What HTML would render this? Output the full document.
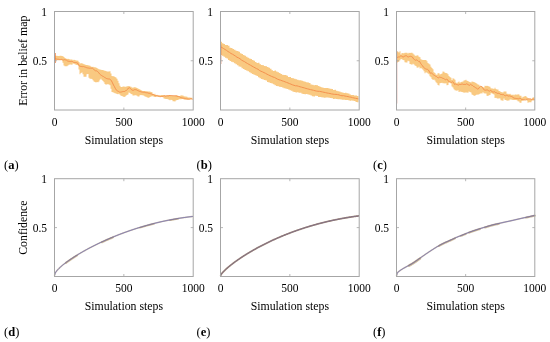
<!DOCTYPE html>
<html><head><meta charset="utf-8"><style>
html,body{margin:0;padding:0;background:#fff;width:550px;height:342px;overflow:hidden}
svg{display:block}
text{fill:#000}
</style></head><body>
<svg width="550" height="342" viewBox="0 0 550 342">
<g style="filter:blur(0.3px)">
<polygon points="54.50,55.69 55.50,55.69 55.50,55.69 56.50,55.69 56.50,55.69 57.50,55.69 57.50,55.97 58.50,55.97 58.50,55.97 59.50,55.97 59.50,55.71 60.50,55.71 60.50,55.71 61.50,55.71 61.50,56.05 62.50,56.05 62.50,56.18 63.50,56.18 63.50,56.93 64.50,56.93 64.50,58.04 65.50,58.04 65.50,58.54 66.50,58.54 66.50,59.04 67.50,59.04 67.50,58.75 68.50,58.75 68.50,59.05 69.50,59.05 69.50,59.57 70.50,59.57 70.50,59.57 71.50,59.57 71.50,59.47 72.50,59.47 72.50,60.25 73.50,60.25 73.50,59.81 74.50,59.81 74.50,60.01 75.50,60.01 75.50,60.41 76.50,60.41 76.50,60.61 77.50,60.61 77.50,60.81 78.50,60.81 78.50,62.10 79.50,62.10 79.50,63.43 80.50,63.43 80.50,63.24 81.50,63.24 81.50,63.24 82.50,63.24 82.50,63.74 83.50,63.74 83.50,64.25 84.50,64.25 84.50,64.58 85.50,64.58 85.50,64.92 86.50,64.92 86.50,64.97 87.50,64.97 87.50,65.35 88.50,65.35 88.50,65.38 89.50,65.38 89.50,65.80 90.50,65.80 90.50,66.58 91.50,66.58 91.50,66.90 92.50,66.90 92.50,66.80 93.50,66.80 93.50,67.15 94.50,67.15 94.50,67.25 95.50,67.25 95.50,67.55 96.50,67.55 96.50,67.93 97.50,67.93 97.50,68.87 98.50,68.87 98.50,69.37 99.50,69.37 99.50,69.50 100.50,69.50 100.50,69.80 101.50,69.80 101.50,69.93 102.50,69.93 102.50,70.11 103.50,70.11 103.50,70.45 104.50,70.45 104.50,70.72 105.50,70.72 105.50,70.95 106.50,70.95 106.50,71.52 107.50,71.52 107.50,71.62 108.50,71.62 108.50,71.62 109.50,71.62 109.50,71.13 110.50,71.13 110.50,73.43 111.50,73.43 111.50,75.92 112.50,75.92 112.50,76.17 113.50,76.17 113.50,76.16 114.50,76.16 114.50,77.05 115.50,77.05 115.50,77.45 116.50,77.45 116.50,78.79 117.50,78.79 117.50,80.86 118.50,80.86 118.50,83.25 119.50,83.25 119.50,85.76 120.50,85.76 120.50,86.96 121.50,86.96 121.50,86.96 122.50,86.96 122.50,86.52 123.50,86.52 123.50,86.52 124.50,86.52 124.50,86.81 125.50,86.81 125.50,86.73 126.50,86.73 126.50,86.17 127.50,86.17 127.50,86.19 128.50,86.19 128.50,85.92 129.50,85.92 129.50,86.48 130.50,86.48 130.50,86.78 131.50,86.78 131.50,87.42 132.50,87.42 132.50,87.67 133.50,87.67 133.50,87.17 134.50,87.17 134.50,87.28 135.50,87.28 135.50,87.53 136.50,87.53 136.50,88.06 137.50,88.06 137.50,88.56 138.50,88.56 138.50,89.06 139.50,89.06 139.50,89.56 140.50,89.56 140.50,90.06 141.50,90.06 141.50,90.71 142.50,90.71 142.50,91.00 143.50,91.00 143.50,91.08 144.50,91.08 144.50,91.10 145.50,91.10 145.50,91.26 146.50,91.26 146.50,91.35 147.50,91.35 147.50,91.43 148.50,91.43 148.50,91.61 149.50,91.61 149.50,91.50 150.50,91.50 150.50,91.88 151.50,91.88 151.50,92.25 152.50,92.25 152.50,93.81 153.50,93.81 153.50,94.18 154.50,94.18 154.50,93.70 155.50,93.70 155.50,95.08 156.50,95.08 156.50,94.78 157.50,94.78 157.50,95.20 158.50,95.20 158.50,95.40 159.50,95.40 159.50,95.60 160.50,95.60 160.50,95.04 161.50,95.04 161.50,95.04 162.50,95.04 162.50,95.04 163.50,95.04 163.50,95.47 164.50,95.47 164.50,95.05 165.50,95.05 165.50,95.81 166.50,95.81 166.50,95.37 167.50,95.37 167.50,95.29 168.50,95.29 168.50,94.92 169.50,94.92 169.50,95.11 170.50,95.11 170.50,95.44 171.50,95.44 171.50,95.46 172.50,95.46 172.50,95.72 173.50,95.72 173.50,95.74 174.50,95.74 174.50,95.76 175.50,95.76 175.50,95.24 176.50,95.24 176.50,95.34 177.50,95.34 177.50,95.63 178.50,95.63 178.50,96.15 179.50,96.15 179.50,95.95 180.50,95.95 180.50,95.26 181.50,95.26 181.50,95.39 182.50,95.39 182.50,95.60 183.50,95.60 183.50,96.31 184.50,96.31 184.50,96.61 185.50,96.61 185.50,96.51 186.50,96.51 186.50,96.81 187.50,96.81 187.50,97.55 188.50,97.55 188.50,97.51 189.50,97.51 189.50,97.61 190.50,97.61 190.50,97.72 191.50,97.72 191.50,97.82 192.50,97.82 192.50,98.10 192.50,98.10 192.50,100.28 192.50,100.28 192.50,99.36 191.50,99.36 191.50,99.36 190.50,99.36 190.50,99.52 189.50,99.52 189.50,99.52 188.50,99.52 188.50,99.97 187.50,99.97 187.50,99.75 186.50,99.75 186.50,99.62 185.50,99.62 185.50,99.69 184.50,99.69 184.50,99.56 183.50,99.56 183.50,99.02 182.50,99.02 182.50,99.02 181.50,99.02 181.50,99.14 180.50,99.14 180.50,99.17 179.50,99.17 179.50,99.35 178.50,99.35 178.50,99.90 177.50,99.90 177.50,99.99 176.50,99.99 176.50,100.59 175.50,100.59 175.50,101.61 174.50,101.61 174.50,101.37 173.50,101.37 173.50,101.13 172.50,101.13 172.50,99.92 171.50,99.92 171.50,99.68 170.50,99.68 170.50,100.26 169.50,100.26 169.50,99.73 168.50,99.73 168.50,99.34 167.50,99.34 167.50,99.00 166.50,99.00 166.50,99.08 165.50,99.08 165.50,98.75 164.50,98.75 164.50,98.38 163.50,98.38 163.50,97.35 162.50,97.35 162.50,97.11 161.50,97.11 161.50,96.87 160.50,96.87 160.50,97.16 159.50,97.16 159.50,97.02 158.50,97.02 158.50,96.88 157.50,96.88 157.50,96.25 156.50,96.25 156.50,97.05 155.50,97.05 155.50,96.90 154.50,96.90 154.50,96.82 153.50,96.82 153.50,96.14 152.50,96.14 152.50,96.14 151.50,96.14 151.50,96.51 150.50,96.51 150.50,96.89 149.50,96.89 149.50,97.85 148.50,97.85 148.50,97.69 147.50,97.69 147.50,97.27 146.50,97.27 146.50,96.86 145.50,96.86 145.50,96.55 144.50,96.55 144.50,95.79 143.50,95.79 143.50,95.37 142.50,95.37 142.50,95.32 141.50,95.32 141.50,95.04 140.50,95.04 140.50,95.37 139.50,95.37 139.50,96.53 138.50,96.53 138.50,96.39 137.50,96.39 137.50,95.79 136.50,95.79 136.50,95.20 135.50,95.20 135.50,95.35 134.50,95.35 134.50,95.40 133.50,95.40 133.50,95.39 132.50,95.39 132.50,94.24 131.50,94.24 131.50,93.93 130.50,93.93 130.50,92.93 129.50,92.93 129.50,92.54 128.50,92.54 128.50,94.46 127.50,94.46 127.50,95.08 126.50,95.08 126.50,95.68 125.50,95.68 125.50,96.80 124.50,96.80 124.50,96.89 123.50,96.89 123.50,96.44 122.50,96.44 122.50,96.08 121.50,96.08 121.50,95.63 120.50,95.63 120.50,94.80 119.50,94.80 119.50,93.78 118.50,93.78 118.50,94.27 117.50,94.27 117.50,93.97 116.50,93.97 116.50,93.56 115.50,93.56 115.50,93.26 114.50,93.26 114.50,92.75 113.50,92.75 113.50,92.26 112.50,92.26 112.50,91.91 111.50,91.91 111.50,88.66 110.50,88.66 110.50,85.13 109.50,85.13 109.50,84.42 108.50,84.42 108.50,84.36 107.50,84.36 107.50,84.17 106.50,84.17 106.50,84.79 105.50,84.79 105.50,83.88 104.50,83.88 104.50,82.34 103.50,82.34 103.50,80.92 102.50,80.92 102.50,80.00 101.50,80.00 101.50,78.87 100.50,78.87 100.50,79.72 99.50,79.72 99.50,81.44 98.50,81.44 98.50,82.25 97.50,82.25 97.50,81.89 96.50,81.89 96.50,82.54 95.50,82.54 95.50,82.06 94.50,82.06 94.50,81.46 93.50,81.46 93.50,80.26 92.50,80.26 92.50,79.11 91.50,79.11 91.50,78.69 90.50,78.69 90.50,78.76 89.50,78.76 89.50,77.86 88.50,77.86 88.50,74.05 87.50,74.05 87.50,74.35 86.50,74.35 86.50,76.86 85.50,76.86 85.50,76.86 84.50,76.86 84.50,76.86 83.50,76.86 83.50,74.34 82.50,74.34 82.50,72.54 81.50,72.54 81.50,73.04 80.50,73.04 80.50,74.34 79.50,74.34 79.50,69.60 78.50,69.60 78.50,65.25 77.50,65.25 77.50,64.95 76.50,64.95 76.50,64.65 75.50,64.65 75.50,64.16 74.50,64.16 74.50,63.86 73.50,63.86 73.50,63.42 72.50,63.42 72.50,64.66 71.50,64.66 71.50,64.56 70.50,64.56 70.50,64.56 69.50,64.56 69.50,64.64 68.50,64.64 68.50,65.49 67.50,65.49 67.50,66.21 66.50,66.21 66.50,66.21 65.50,66.21 65.50,66.21 64.50,66.21 64.50,65.58 63.50,65.58 63.50,62.83 62.50,62.83 62.50,60.52 61.50,60.52 61.50,60.07 60.50,60.07 60.50,60.00 59.50,60.00 59.50,60.35 58.50,60.35 58.50,60.28 57.50,60.28 57.50,60.16 56.50,60.16 56.50,60.09 55.50,60.09 55.50,60.55 54.50,60.55" fill="#f9c981"/>
<polyline points="54.50,57.92 55.50,58.96 56.50,59.03 57.50,59.24 58.50,59.31 59.50,59.62 60.50,59.69 61.50,59.40 62.50,59.81 63.50,59.97 64.50,59.68 65.50,59.90 66.50,60.13 67.50,60.94 68.50,61.26 69.50,61.41 70.50,61.54 71.50,61.40 72.50,61.53 73.50,62.27 74.50,62.47 75.50,62.54 76.50,62.74 77.50,62.94 78.50,64.74 79.50,66.20 80.50,66.33 81.50,66.53 82.50,66.63 83.50,66.58 84.50,66.88 85.50,67.18 86.50,67.64 87.50,67.89 88.50,68.05 89.50,68.22 90.50,68.15 91.50,68.23 92.50,68.23 93.50,69.21 94.50,70.06 95.50,70.79 96.50,70.80 97.50,71.52 98.50,72.39 99.50,73.84 100.50,74.71 101.50,75.44 102.50,76.12 103.50,76.58 104.50,77.35 105.50,77.88 106.50,78.53 107.50,78.78 108.50,78.98 109.50,79.03 110.50,79.63 111.50,80.88 112.50,82.88 113.50,85.05 114.50,86.78 115.50,88.78 116.50,90.24 117.50,90.91 118.50,91.40 119.50,92.07 120.50,92.10 121.50,91.95 122.50,91.64 123.50,91.49 124.50,91.49 125.50,90.79 126.50,90.37 127.50,89.39 128.50,88.00 129.50,87.75 130.50,88.65 131.50,89.64 132.50,90.24 133.50,90.22 134.50,89.64 135.50,89.63 136.50,89.90 137.50,90.47 138.50,90.90 139.50,91.33 140.50,91.63 141.50,91.92 142.50,92.12 143.50,92.22 144.50,92.24 145.50,92.62 146.50,92.72 147.50,92.82 148.50,93.21 149.50,93.40 150.50,93.70 151.50,94.00 152.50,94.48 153.50,94.52 154.50,95.37 155.50,95.63 156.50,95.74 157.50,95.85 158.50,96.01 159.50,96.17 160.50,96.55 161.50,96.49 162.50,96.43 163.50,96.00 164.50,95.80 165.50,96.16 166.50,95.88 167.50,95.84 168.50,95.87 169.50,95.52 170.50,95.55 171.50,95.59 172.50,95.65 173.50,95.69 174.50,95.73 175.50,95.84 176.50,96.04 177.50,96.42 178.50,96.53 179.50,96.80 180.50,97.44 181.50,97.74 182.50,97.99 183.50,98.17 184.50,98.37 185.50,98.66 186.50,98.86 187.50,98.88 188.50,99.07 189.50,99.11 190.50,98.82 191.50,98.86 192.50,99.35" fill="none" stroke="#f38a48" stroke-width="0.9" stroke-linejoin="round"/>
<path d="M55.2,53V63" stroke="#f08040" stroke-width="1.2" opacity="0.9"/>
<rect x="54.5" y="11.5" width="138.7" height="98.5" fill="none" stroke="#a6a6a6" stroke-width="1"/>
<path d="M123.85,110.0v-2.5M123.85,11.5v2.5M54.5,60.75h2.5M193.2,60.75h-2.5" stroke="#a6a6a6" stroke-width="0.8"/>
<polygon points="220.50,41.75 222.00,41.75 222.00,43.20 223.50,43.20 223.50,44.06 225.00,44.06 225.00,44.92 226.50,44.92 226.50,45.06 228.00,45.06 228.00,45.77 229.50,45.77 229.50,47.67 231.00,47.67 231.00,48.10 232.50,48.10 232.50,48.94 234.00,48.94 234.00,49.81 235.50,49.81 235.50,50.68 237.00,50.68 237.00,51.02 238.50,51.02 238.50,51.86 240.00,51.86 240.00,53.26 241.50,53.26 241.50,54.05 243.00,54.05 243.00,54.91 244.50,54.91 244.50,55.86 246.00,55.86 246.00,56.84 247.50,56.84 247.50,57.68 249.00,57.68 249.00,58.51 250.50,58.51 250.50,59.09 252.00,59.09 252.00,59.91 253.50,59.91 253.50,60.72 255.00,60.72 255.00,62.10 256.50,62.10 256.50,62.90 258.00,62.90 258.00,62.69 259.50,62.69 259.50,64.20 261.00,64.20 261.00,64.96 262.50,64.96 262.50,65.21 264.00,65.21 264.00,65.96 265.50,65.96 265.50,66.37 267.00,66.37 267.00,67.09 268.50,67.09 268.50,67.80 270.00,67.80 270.00,68.78 271.50,68.78 271.50,70.26 273.00,70.26 273.00,70.94 274.50,70.94 274.50,70.56 276.00,70.56 276.00,71.62 277.50,71.62 277.50,72.33 279.00,72.33 279.00,72.97 280.50,72.97 280.50,74.10 282.00,74.10 282.00,74.71 283.50,74.71 283.50,75.10 285.00,75.10 285.00,75.08 286.50,75.08 286.50,75.66 288.00,75.66 288.00,77.02 289.50,77.02 289.50,77.08 291.00,77.08 291.00,77.95 292.50,77.95 292.50,78.21 294.00,78.21 294.00,78.73 295.50,78.73 295.50,79.25 297.00,79.25 297.00,79.68 298.50,79.68 298.50,80.17 300.00,80.17 300.00,80.26 301.50,80.26 301.50,80.79 303.00,80.79 303.00,81.26 304.50,81.26 304.50,81.71 306.00,81.71 306.00,82.21 307.50,82.21 307.50,82.55 309.00,82.55 309.00,82.98 310.50,82.98 310.50,84.47 312.00,84.47 312.00,84.76 313.50,84.76 313.50,85.17 315.00,85.17 315.00,84.92 316.50,84.92 316.50,85.32 318.00,85.32 318.00,85.91 319.50,85.91 319.50,86.87 321.00,86.87 321.00,87.25 322.50,87.25 322.50,87.63 324.00,87.63 324.00,87.96 325.50,87.96 325.50,88.07 327.00,88.07 327.00,88.04 328.50,88.04 328.50,88.41 330.00,88.41 330.00,88.78 331.50,88.78 331.50,89.12 333.00,89.12 333.00,90.06 334.50,90.06 334.50,89.71 336.00,89.71 336.00,90.79 337.50,90.79 337.50,91.17 339.00,91.17 339.00,91.55 340.50,91.55 340.50,92.14 342.00,92.14 342.00,92.53 343.50,92.53 343.50,92.93 345.00,92.93 345.00,92.75 346.50,92.75 346.50,93.17 348.00,93.17 348.00,93.59 349.50,93.59 349.50,94.47 351.00,94.47 351.00,94.91 352.50,94.91 352.50,94.94 354.00,94.94 354.00,95.42 355.50,95.42 355.50,95.43 357.00,95.43 357.00,95.93 358.50,95.93 358.50,96.83 358.50,96.83 358.50,102.58 358.50,102.58 358.50,102.32 357.00,102.32 357.00,102.07 355.50,102.07 355.50,100.91 354.00,100.91 354.00,100.69 352.50,100.69 352.50,100.40 351.00,100.40 351.00,100.63 349.50,100.63 349.50,100.26 348.00,100.26 348.00,100.06 346.50,100.06 346.50,99.88 345.00,99.88 345.00,99.73 343.50,99.73 343.50,99.65 342.00,99.65 342.00,99.47 340.50,99.47 340.50,99.33 339.00,99.33 339.00,99.15 337.50,99.15 337.50,98.98 336.00,98.98 336.00,98.83 334.50,98.83 334.50,99.05 333.00,99.05 333.00,98.16 331.50,98.16 331.50,97.98 330.00,97.98 330.00,97.79 328.50,97.79 328.50,97.61 327.00,97.61 327.00,97.46 325.50,97.46 325.50,97.86 324.00,97.86 324.00,97.38 322.50,97.38 322.50,97.17 321.00,97.17 321.00,96.95 319.50,96.95 319.50,96.93 318.00,96.93 318.00,96.03 316.50,96.03 316.50,95.79 315.00,95.79 315.00,96.56 313.50,96.56 313.50,96.29 312.00,96.29 312.00,95.55 310.50,95.55 310.50,94.80 309.00,94.80 309.00,94.50 307.50,94.50 307.50,94.07 306.00,94.07 306.00,94.35 304.50,94.35 304.50,94.02 303.00,94.02 303.00,93.67 301.50,93.67 301.50,92.68 300.00,92.68 300.00,92.70 298.50,92.70 298.50,92.32 297.00,92.32 297.00,92.49 295.50,92.49 295.50,92.08 294.00,92.08 294.00,91.65 292.50,91.65 292.50,90.78 291.00,90.78 291.00,90.15 289.50,90.15 289.50,89.46 288.00,89.46 288.00,89.04 286.50,89.04 286.50,88.53 285.00,88.53 285.00,88.20 283.50,88.20 283.50,87.55 282.00,87.55 282.00,87.00 280.50,87.00 280.50,86.77 279.00,86.77 279.00,86.19 277.50,86.19 277.50,86.04 276.00,86.04 276.00,85.26 274.50,85.26 274.50,84.14 273.00,84.14 273.00,83.51 271.50,83.51 271.50,82.89 270.00,82.89 270.00,82.61 268.50,82.61 268.50,81.93 267.00,81.93 267.00,80.51 265.50,80.51 265.50,80.11 264.00,80.11 264.00,79.39 262.50,79.39 262.50,78.92 261.00,78.92 261.00,78.17 259.50,78.17 259.50,77.31 258.00,77.31 258.00,76.09 256.50,76.09 256.50,75.31 255.00,75.31 255.00,74.78 253.50,74.78 253.50,73.97 252.00,73.97 252.00,73.15 250.50,73.15 250.50,72.20 249.00,72.20 249.00,71.36 247.50,71.36 247.50,70.50 246.00,70.50 246.00,69.89 244.50,69.89 244.50,69.12 243.00,69.12 243.00,68.24 241.50,68.24 241.50,66.79 240.00,66.79 240.00,66.51 238.50,66.51 238.50,65.29 237.00,65.29 237.00,64.17 235.50,64.17 235.50,63.26 234.00,63.26 234.00,62.35 232.50,62.35 232.50,61.74 231.00,61.74 231.00,61.10 229.50,61.10 229.50,59.92 228.00,59.92 228.00,58.59 226.50,58.59 226.50,57.67 225.00,57.67 225.00,56.74 223.50,56.74 223.50,55.81 222.00,55.81 222.00,54.95 220.50,54.95" fill="#f9c981"/>
<polyline points="220.50,46.65 222.00,47.57 223.50,48.53 225.00,49.49 226.50,50.37 228.00,51.53 229.50,52.37 231.00,53.53 232.50,54.20 234.00,55.15 235.50,56.10 237.00,57.24 238.50,57.87 240.00,58.73 241.50,60.02 243.00,60.93 244.50,61.61 246.00,62.65 247.50,63.54 249.00,64.42 250.50,65.23 252.00,66.10 253.50,66.95 255.00,67.78 256.50,68.61 258.00,69.24 259.50,70.47 261.00,71.26 262.50,71.85 264.00,72.62 265.50,73.27 267.00,74.20 268.50,74.93 270.00,75.66 271.50,76.33 273.00,77.02 274.50,77.45 276.00,78.29 277.50,79.13 279.00,79.76 280.50,80.15 282.00,80.75 283.50,81.24 285.00,81.82 286.50,82.38 288.00,82.94 289.50,83.62 291.00,84.16 292.50,84.83 294.00,85.32 295.50,85.79 297.00,85.83 298.50,86.28 300.00,86.77 301.50,87.14 303.00,87.55 304.50,87.94 306.00,88.46 307.50,88.84 309.00,89.21 310.50,89.61 312.00,89.95 313.50,90.28 315.00,90.75 316.50,91.07 318.00,91.26 319.50,91.37 321.00,91.66 322.50,91.95 324.00,92.31 325.50,92.61 327.00,92.97 328.50,93.24 330.00,93.50 331.50,93.89 333.00,94.11 334.50,94.37 336.00,94.35 337.50,94.61 339.00,94.86 340.50,95.49 342.00,95.75 343.50,95.66 345.00,96.06 346.50,96.33 348.00,96.62 349.50,96.99 351.00,97.15 352.50,97.66 354.00,97.97 355.50,98.27 357.00,98.61 358.50,98.96" fill="none" stroke="#f38a48" stroke-width="0.9" stroke-linejoin="round"/>
<path d="M221.0,44.5V64" stroke="#e07850" stroke-width="1" opacity="0.6"/>
<rect x="220.5" y="11.5" width="138.7" height="98.5" fill="none" stroke="#a6a6a6" stroke-width="1"/>
<path d="M289.85,110.0v-2.5M289.85,11.5v2.5M220.5,60.75h2.5M359.2,60.75h-2.5" stroke="#a6a6a6" stroke-width="0.8"/>
<polygon points="396.50,51.17 397.50,51.17 397.50,51.83 398.50,51.83 398.50,52.48 399.50,52.48 399.50,51.36 400.50,51.36 400.50,54.38 401.50,54.38 401.50,52.97 402.50,52.97 402.50,53.20 403.50,53.20 403.50,53.35 404.50,53.35 404.50,52.68 405.50,52.68 405.50,52.68 406.50,52.68 406.50,52.68 407.50,52.68 407.50,53.53 408.50,53.53 408.50,52.83 409.50,52.83 409.50,53.07 410.50,53.07 410.50,52.75 411.50,52.75 411.50,52.75 412.50,52.75 412.50,53.58 413.50,53.58 413.50,54.44 414.50,54.44 414.50,55.41 415.50,55.41 415.50,55.97 416.50,55.97 416.50,55.34 417.50,55.34 417.50,55.49 418.50,55.49 418.50,56.69 419.50,56.69 419.50,57.36 420.50,57.36 420.50,59.20 421.50,59.20 421.50,59.63 422.50,59.63 422.50,60.10 423.50,60.10 423.50,60.11 424.50,60.11 424.50,59.94 425.50,59.94 425.50,60.11 426.50,60.11 426.50,61.27 427.50,61.27 427.50,62.91 428.50,62.91 428.50,63.66 429.50,63.66 429.50,64.62 430.50,64.62 430.50,66.65 431.50,66.65 431.50,67.88 432.50,67.88 432.50,69.33 433.50,69.33 433.50,72.21 434.50,72.21 434.50,73.08 435.50,73.08 435.50,74.59 436.50,74.59 436.50,74.86 437.50,74.86 437.50,73.28 438.50,73.28 438.50,73.13 439.50,73.13 439.50,74.62 440.50,74.62 440.50,74.04 441.50,74.04 441.50,73.46 442.50,73.46 442.50,71.49 443.50,71.49 443.50,71.68 444.50,71.68 444.50,72.65 445.50,72.65 445.50,73.05 446.50,73.05 446.50,73.18 447.50,73.18 447.50,74.20 448.50,74.20 448.50,76.07 449.50,76.07 449.50,77.09 450.50,77.09 450.50,77.83 451.50,77.83 451.50,80.12 452.50,80.12 452.50,78.23 453.50,78.23 453.50,78.68 454.50,78.68 454.50,79.65 455.50,79.65 455.50,82.42 456.50,82.42 456.50,83.14 457.50,83.14 457.50,82.37 458.50,82.37 458.50,81.49 459.50,81.49 459.50,82.73 460.50,82.73 460.50,82.03 461.50,82.03 461.50,81.73 462.50,81.73 462.50,81.38 463.50,81.38 463.50,80.58 464.50,80.58 464.50,80.18 465.50,80.18 465.50,79.78 466.50,79.78 466.50,80.63 467.50,80.63 467.50,80.90 468.50,80.90 468.50,81.69 469.50,81.69 469.50,81.97 470.50,81.97 470.50,82.62 471.50,82.62 471.50,81.47 472.50,81.47 472.50,81.77 473.50,81.77 473.50,82.04 474.50,82.04 474.50,82.55 475.50,82.55 475.50,82.93 476.50,82.93 476.50,83.66 477.50,83.66 477.50,84.39 478.50,84.39 478.50,84.65 479.50,84.65 479.50,86.33 480.50,86.33 480.50,86.13 481.50,86.13 481.50,86.33 482.50,86.33 482.50,86.94 483.50,86.94 483.50,87.54 484.50,87.54 484.50,85.82 485.50,85.82 485.50,85.97 486.50,85.97 486.50,85.79 487.50,85.79 487.50,85.94 488.50,85.94 488.50,86.55 489.50,86.55 489.50,86.82 490.50,86.82 490.50,88.35 491.50,88.35 491.50,88.62 492.50,88.62 492.50,88.62 493.50,88.62 493.50,88.94 494.50,88.94 494.50,87.85 495.50,87.85 495.50,89.10 496.50,89.10 496.50,89.44 497.50,89.44 497.50,89.50 498.50,89.50 498.50,90.89 499.50,90.89 499.50,91.27 500.50,91.27 500.50,92.02 501.50,92.02 501.50,92.32 502.50,92.32 502.50,92.62 503.50,92.62 503.50,91.47 504.50,91.47 504.50,91.45 505.50,91.45 505.50,91.57 506.50,91.57 506.50,93.69 507.50,93.69 507.50,93.81 508.50,93.81 508.50,94.17 509.50,94.17 509.50,93.83 510.50,93.83 510.50,94.43 511.50,94.43 511.50,95.03 512.50,95.03 512.50,94.55 513.50,94.55 513.50,95.23 514.50,95.23 514.50,94.55 515.50,94.55 515.50,94.55 516.50,94.55 516.50,94.68 517.50,94.68 517.50,94.23 518.50,94.23 518.50,94.51 519.50,94.51 519.50,95.65 520.50,95.65 520.50,95.86 521.50,95.86 521.50,97.64 522.50,97.64 522.50,96.66 523.50,96.66 523.50,96.81 524.50,96.81 524.50,96.00 525.50,96.00 525.50,96.30 526.50,96.30 526.50,97.33 527.50,97.33 527.50,98.13 528.50,98.13 528.50,98.72 529.50,98.72 529.50,98.87 530.50,98.87 530.50,99.02 531.50,99.02 531.50,98.51 532.50,98.51 532.50,97.54 533.50,97.54 533.50,97.34 534.50,97.34 534.50,97.28 534.50,97.28 534.50,101.62 534.50,101.62 534.50,100.60 533.50,100.60 533.50,100.60 532.50,100.60 532.50,100.53 531.50,100.53 531.50,102.28 530.50,102.28 530.50,102.28 529.50,102.28 529.50,102.28 528.50,102.28 528.50,102.68 527.50,102.68 527.50,100.66 526.50,100.66 526.50,99.86 525.50,99.86 525.50,99.86 524.50,99.86 524.50,100.58 523.50,100.58 523.50,100.58 522.50,100.58 522.50,100.94 521.50,100.94 521.50,102.73 520.50,102.73 520.50,102.66 519.50,102.66 519.50,101.46 518.50,101.46 518.50,101.31 517.50,101.31 517.50,100.25 516.50,100.25 516.50,100.10 515.50,100.10 515.50,99.95 514.50,99.95 514.50,99.88 513.50,99.88 513.50,100.11 512.50,100.11 512.50,99.65 511.50,99.65 511.50,99.52 510.50,99.52 510.50,99.40 509.50,99.40 509.50,100.62 508.50,100.62 508.50,100.62 507.50,100.62 507.50,100.74 506.50,100.74 506.50,99.95 505.50,99.95 505.50,100.08 504.50,100.08 504.50,98.57 503.50,98.57 503.50,100.79 502.50,100.79 502.50,100.51 501.50,100.51 501.50,100.24 500.50,100.24 500.50,98.50 499.50,98.50 499.50,98.25 498.50,98.25 498.50,98.71 497.50,98.71 497.50,98.27 496.50,98.27 496.50,97.72 495.50,97.72 495.50,97.90 494.50,97.90 494.50,94.50 493.50,94.50 493.50,94.07 492.50,94.07 492.50,93.25 491.50,93.25 491.50,93.37 490.50,93.37 490.50,95.07 489.50,95.07 489.50,95.20 488.50,95.20 488.50,95.88 487.50,95.88 487.50,95.75 486.50,95.75 486.50,93.52 485.50,93.52 485.50,93.40 484.50,93.40 484.50,93.20 483.50,93.20 483.50,92.20 482.50,92.20 482.50,93.47 481.50,93.47 481.50,93.27 480.50,93.27 480.50,93.87 479.50,93.87 479.50,94.13 478.50,94.13 478.50,94.64 477.50,94.64 477.50,94.47 476.50,94.47 476.50,94.89 475.50,94.89 475.50,95.84 474.50,95.84 474.50,95.76 473.50,95.76 473.50,95.06 472.50,95.06 472.50,94.48 471.50,94.48 471.50,92.61 470.50,92.61 470.50,91.93 469.50,91.93 469.50,91.61 468.50,91.61 468.50,92.77 467.50,92.77 467.50,92.44 466.50,92.44 466.50,92.45 465.50,92.45 465.50,92.62 464.50,92.62 464.50,92.80 463.50,92.80 463.50,92.16 462.50,92.16 462.50,92.10 461.50,92.10 461.50,91.80 460.50,91.80 460.50,91.45 459.50,91.45 459.50,92.12 458.50,92.12 458.50,90.30 457.50,90.30 457.50,90.64 456.50,90.64 456.50,90.49 455.50,90.49 455.50,90.33 454.50,90.33 454.50,89.14 453.50,89.14 453.50,87.39 452.50,87.39 452.50,86.42 451.50,86.42 451.50,83.40 450.50,83.40 450.50,82.60 449.50,82.60 449.50,82.75 448.50,82.75 448.50,85.02 447.50,85.02 447.50,85.17 446.50,85.17 446.50,83.15 445.50,83.15 445.50,83.42 444.50,83.42 444.50,83.22 443.50,83.22 443.50,83.24 442.50,83.24 442.50,82.74 441.50,82.74 441.50,82.98 440.50,82.98 440.50,83.22 439.50,83.22 439.50,85.38 438.50,85.38 438.50,84.98 437.50,84.98 437.50,83.20 436.50,83.20 436.50,82.17 435.50,82.17 435.50,80.60 434.50,80.60 434.50,79.51 433.50,79.51 433.50,80.11 432.50,80.11 432.50,78.96 431.50,78.96 431.50,77.22 430.50,77.22 430.50,76.20 429.50,76.20 429.50,74.21 428.50,74.21 428.50,73.51 427.50,73.51 427.50,72.64 426.50,72.64 426.50,72.24 425.50,72.24 425.50,73.22 424.50,73.22 424.50,71.27 423.50,71.27 423.50,69.80 422.50,69.80 422.50,68.74 421.50,68.74 421.50,68.07 420.50,68.07 420.50,68.45 419.50,68.45 419.50,66.79 418.50,66.79 418.50,67.66 417.50,67.66 417.50,67.41 416.50,67.41 416.50,66.12 415.50,66.12 415.50,65.51 414.50,65.51 414.50,64.55 413.50,64.55 413.50,63.67 412.50,63.67 412.50,64.79 411.50,64.79 411.50,64.37 410.50,64.37 410.50,63.92 409.50,63.92 409.50,61.26 408.50,61.26 408.50,60.72 407.50,60.72 407.50,62.57 406.50,62.57 406.50,62.42 405.50,62.42 405.50,62.27 404.50,62.27 404.50,60.20 403.50,60.20 403.50,59.90 402.50,59.90 402.50,59.36 401.50,59.36 401.50,59.09 400.50,59.09 400.50,60.25 399.50,60.25 399.50,61.60 398.50,61.60 398.50,62.11 397.50,62.11 397.50,62.63 396.50,62.63" fill="#f9c981"/>
<polyline points="396.50,57.67 397.50,57.33 398.50,56.99 399.50,56.88 400.50,56.03 401.50,55.82 402.50,56.96 403.50,57.11 404.50,55.95 405.50,55.80 406.50,55.65 407.50,56.83 408.50,56.92 409.50,56.51 410.50,56.27 411.50,56.57 412.50,57.05 413.50,58.86 414.50,59.62 415.50,60.23 416.50,59.92 417.50,60.37 418.50,61.39 419.50,61.27 420.50,63.20 421.50,64.56 422.50,65.82 423.50,67.25 424.50,68.10 425.50,68.81 426.50,69.21 427.50,69.34 428.50,70.14 429.50,71.93 430.50,73.30 431.50,73.02 432.50,73.87 433.50,74.81 434.50,75.45 435.50,76.14 436.50,76.56 437.50,77.49 438.50,77.82 439.50,77.14 440.50,77.38 441.50,77.62 442.50,78.16 443.50,78.48 444.50,78.88 445.50,79.94 446.50,79.29 447.50,79.56 448.50,81.36 449.50,81.63 450.50,82.07 451.50,82.36 452.50,81.79 453.50,82.39 454.50,84.41 455.50,84.02 456.50,84.44 457.50,84.73 458.50,85.01 459.50,84.43 460.50,84.49 461.50,84.21 462.50,84.08 463.50,84.44 464.50,84.44 465.50,84.44 466.50,83.86 467.50,84.01 468.50,85.14 469.50,85.29 470.50,84.31 471.50,85.00 472.50,85.45 473.50,86.41 474.50,86.92 475.50,87.64 476.50,88.22 477.50,89.00 478.50,88.81 479.50,87.28 480.50,86.31 481.50,86.51 482.50,87.63 483.50,89.00 484.50,90.17 485.50,90.17 486.50,90.03 487.50,90.03 488.50,90.70 489.50,91.12 490.50,90.42 491.50,90.84 492.50,92.16 493.50,92.00 494.50,91.73 495.50,92.51 496.50,92.81 497.50,93.39 498.50,93.31 499.50,93.61 500.50,94.36 501.50,94.49 502.50,94.61 503.50,94.62 504.50,95.41 505.50,95.78 506.50,95.31 507.50,95.68 508.50,96.02 509.50,95.88 510.50,96.18 511.50,96.48 512.50,96.79 513.50,98.05 514.50,98.24 515.50,98.39 516.50,98.54 517.50,98.65 518.50,98.80 519.50,98.31 520.50,98.46 521.50,99.36 522.50,99.54 523.50,99.69 524.50,99.79 525.50,99.94 526.50,99.34 527.50,99.12 528.50,98.85 529.50,98.90 530.50,98.95 531.50,99.73 532.50,99.21 533.50,99.15 534.50,99.59" fill="none" stroke="#f38a48" stroke-width="0.9" stroke-linejoin="round"/>
<path d="M397.0,51V103.5" stroke="#e09080" stroke-width="1" opacity="0.45"/>
<rect x="396.5" y="11.5" width="138.29999999999995" height="98.5" fill="none" stroke="#a6a6a6" stroke-width="1"/>
<path d="M465.65,110.0v-2.5M465.65,11.5v2.5M396.5,60.75h2.5M534.8,60.75h-2.5" stroke="#a6a6a6" stroke-width="0.8"/>
<polyline points="54.50,275.62 55.00,273.58 55.50,272.63 56.00,271.86 56.50,271.18 57.00,270.56 57.50,269.98 58.00,269.43 58.50,268.90 59.00,268.40 59.50,267.92 60.00,267.44 60.50,266.99 61.00,266.54 61.50,266.11 62.00,265.68 62.50,265.26 63.00,264.85 63.50,264.45 64.00,264.05 64.50,263.66 65.00,263.27 65.50,262.89 66.00,262.51 66.50,262.14 67.00,261.78 67.50,261.41 68.00,261.05 68.50,260.70 69.00,260.35 69.50,260.00 70.00,259.66 70.50,259.31 71.00,258.98 71.50,258.64 72.00,258.31 72.50,257.98 73.00,257.65 73.50,257.33 74.00,257.01 74.50,256.69 75.00,256.37 75.50,256.06 76.00,255.74 76.50,255.43 77.00,255.12 77.50,254.82 78.00,254.51 78.50,254.21 79.00,253.91 79.50,253.62 80.00,253.32 80.50,253.03 81.00,252.73 81.50,252.44 82.00,252.15 82.50,251.87 83.00,251.58 83.50,251.30 84.00,251.02 84.50,250.74 85.00,250.46 85.50,250.18 86.00,249.91 86.50,249.63 87.00,249.36 87.50,249.09 88.00,248.82 88.50,248.55 89.00,248.29 89.50,248.02 90.00,247.76 90.50,247.49 91.00,247.23 91.50,246.98 92.00,246.72 92.50,246.46 93.00,246.21 93.50,245.95 94.00,245.70 94.50,245.45 95.00,245.20 95.50,244.95 96.00,244.70 96.50,244.46 97.00,244.21 97.50,243.97 98.00,243.73 98.50,243.49 99.00,243.25 99.50,243.01 100.00,242.77 100.50,242.54 101.00,242.30 101.50,242.07 102.00,241.84 102.50,241.60 103.00,241.37 103.50,241.15 104.00,240.92 104.50,240.69 105.00,240.47 105.50,240.24 106.00,240.02 106.50,239.80 107.00,239.58 107.50,239.36 108.00,239.14 108.50,238.92 109.00,238.71 109.50,238.49 110.00,238.28 110.50,238.06 111.00,237.85 111.50,237.64 112.00,237.43 112.50,237.22 113.00,237.02 113.50,236.81 114.00,236.61 114.50,236.40 115.00,236.20 115.50,236.00 116.00,235.80 116.50,235.60 117.00,235.40 117.50,235.20 118.00,235.00 118.50,234.81 119.00,234.61 119.50,234.42 120.00,234.23 120.50,234.03 121.00,233.84 121.50,233.65 122.00,233.47 122.50,233.28 123.00,233.09 123.50,232.91 124.00,232.72 124.50,232.54 125.00,232.36 125.50,232.18 126.00,232.00 126.50,231.82 127.00,231.64 127.50,231.46 128.00,231.28 128.50,231.11 129.00,230.93 129.50,230.76 130.00,230.59 130.50,230.42 131.00,230.25 131.50,230.08 132.00,229.91 132.50,229.74 133.00,229.58 133.50,229.41 134.00,229.25 134.50,229.08 135.00,228.92 135.50,228.76 136.00,228.60 136.50,228.44 137.00,228.28 137.50,228.12 138.00,227.97 138.50,227.81 139.00,227.66 139.50,227.50 140.00,227.35 140.50,227.20 141.00,227.05 141.50,226.90 142.00,226.75 142.50,226.60 143.00,226.45 143.50,226.31 144.00,226.16 144.50,226.02 145.00,225.87 145.50,225.73 146.00,225.59 146.50,225.45 147.00,225.31 147.50,225.17 148.00,225.03 148.50,224.90 149.00,224.76 149.50,224.63 150.00,224.49 150.50,224.36 151.00,224.23 151.50,224.10 152.00,223.97 152.50,223.84 153.00,223.71 153.50,223.58 154.00,223.46 154.50,223.33 155.00,223.21 155.50,223.08 156.00,222.96 156.50,222.84 157.00,222.72 157.50,222.60 158.00,222.48 158.50,222.36 159.00,222.24 159.50,222.13 160.00,222.01 160.50,221.90 161.00,221.79 161.50,221.67 162.00,221.56 162.50,221.45 163.00,221.34 163.50,221.23 164.00,221.12 164.50,221.02 165.00,220.91 165.50,220.81 166.00,220.70 166.50,220.60 167.00,220.50 167.50,220.40 168.00,220.29 168.50,220.20 169.00,220.10 169.50,220.00 170.00,219.90 170.50,219.81 171.00,219.71 171.50,219.62 172.00,219.52 172.50,219.43 173.00,219.34 173.50,219.25 174.00,219.16 174.50,219.07 175.00,218.98 175.50,218.90 176.00,218.81 176.50,218.73 177.00,218.64 177.50,218.56 178.00,218.48 178.50,218.39 179.00,218.31 179.50,218.23 180.00,218.15 180.50,218.08 181.00,218.00 181.50,217.92 182.00,217.85 182.50,217.77 183.00,217.70 183.50,217.63 184.00,217.56 184.50,217.49 185.00,217.42 185.50,217.35 186.00,217.28 186.50,217.21 187.00,217.15 187.50,217.08 188.00,217.02 188.50,216.95 189.00,216.89 189.50,216.83 190.00,216.77 190.50,216.71 191.00,216.65 191.50,216.59 192.00,216.53 192.50,216.48 193.00,216.42" fill="none" stroke="#a89068" stroke-width="1.6" stroke-linejoin="round" opacity="0.45"/>
<polyline points="66.00,262.91 66.50,262.54 67.00,262.18 67.50,261.81 68.00,261.45 68.50,261.10 69.00,260.75 69.50,260.40 70.00,260.06 70.50,259.71 71.00,259.38 71.50,259.04 72.00,258.71 72.50,258.38 73.00,258.05 73.50,257.73 74.00,257.41 74.50,257.09 75.00,256.77 75.50,256.46 76.00,256.14 76.50,255.83 77.00,255.52" fill="none" stroke="#a88c5c" stroke-width="2.0" stroke-linecap="round" opacity="0.55"/>
<polyline points="102.00,242.24 102.50,242.00 103.00,241.77 103.50,241.55 104.00,241.32 104.50,241.09 105.00,240.87 105.50,240.64 106.00,240.42 106.50,240.20 107.00,239.98 107.50,239.76 108.00,239.54 108.50,239.32 109.00,239.11 109.50,238.89 110.00,238.68 110.50,238.46 111.00,238.25 111.50,238.04 112.00,237.83 112.50,237.62 113.00,237.42" fill="none" stroke="#a88c5c" stroke-width="2.0" stroke-linecap="round" opacity="0.55"/>
<polyline points="140.00,227.75 140.50,227.60 141.00,227.45 141.50,227.30 142.00,227.15 142.50,227.00 143.00,226.85 143.50,226.71 144.00,226.56 144.50,226.42 145.00,226.27 145.50,226.13 146.00,225.99 146.50,225.85 147.00,225.71 147.50,225.57 148.00,225.43 148.50,225.30 149.00,225.16 149.50,225.03 150.00,224.89 150.50,224.76 151.00,224.63 151.50,224.50 152.00,224.37 152.50,224.24 153.00,224.11 153.50,223.98 154.00,223.86" fill="none" stroke="#a88c5c" stroke-width="1.6" stroke-linecap="round" opacity="0.55"/>
<polyline points="170.00,220.30 170.50,220.21 171.00,220.11 171.50,220.02 172.00,219.92 172.50,219.83 173.00,219.74 173.50,219.65 174.00,219.56 174.50,219.47 175.00,219.38 175.50,219.30 176.00,219.21 176.50,219.13 177.00,219.04 177.50,218.96 178.00,218.88" fill="none" stroke="#a88c5c" stroke-width="1.6" stroke-linecap="round" opacity="0.55"/>
<polyline points="54.50,275.62 55.00,273.58 55.50,272.63 56.00,271.86 56.50,271.18 57.00,270.56 57.50,269.98 58.00,269.43 58.50,268.90 59.00,268.40 59.50,267.92 60.00,267.44 60.50,266.99 61.00,266.54 61.50,266.11 62.00,265.68 62.50,265.26 63.00,264.85 63.50,264.45 64.00,264.05 64.50,263.66 65.00,263.27 65.50,262.89 66.00,262.51 66.50,262.14 67.00,261.78 67.50,261.41 68.00,261.05 68.50,260.70 69.00,260.35 69.50,260.00 70.00,259.66 70.50,259.31 71.00,258.98 71.50,258.64 72.00,258.31 72.50,257.98 73.00,257.65 73.50,257.33 74.00,257.01 74.50,256.69 75.00,256.37 75.50,256.06 76.00,255.74 76.50,255.43 77.00,255.12 77.50,254.82 78.00,254.51 78.50,254.21 79.00,253.91 79.50,253.62 80.00,253.32 80.50,253.03 81.00,252.73 81.50,252.44 82.00,252.15 82.50,251.87 83.00,251.58 83.50,251.30 84.00,251.02 84.50,250.74 85.00,250.46 85.50,250.18 86.00,249.91 86.50,249.63 87.00,249.36 87.50,249.09 88.00,248.82 88.50,248.55 89.00,248.29 89.50,248.02 90.00,247.76 90.50,247.49 91.00,247.23 91.50,246.98 92.00,246.72 92.50,246.46 93.00,246.21 93.50,245.95 94.00,245.70 94.50,245.45 95.00,245.20 95.50,244.95 96.00,244.70 96.50,244.46 97.00,244.21 97.50,243.97 98.00,243.73 98.50,243.49 99.00,243.25 99.50,243.01 100.00,242.77 100.50,242.54 101.00,242.30 101.50,242.07 102.00,241.84 102.50,241.60 103.00,241.37 103.50,241.15 104.00,240.92 104.50,240.69 105.00,240.47 105.50,240.24 106.00,240.02 106.50,239.80 107.00,239.58 107.50,239.36 108.00,239.14 108.50,238.92 109.00,238.71 109.50,238.49 110.00,238.28 110.50,238.06 111.00,237.85 111.50,237.64 112.00,237.43 112.50,237.22 113.00,237.02 113.50,236.81 114.00,236.61 114.50,236.40 115.00,236.20 115.50,236.00 116.00,235.80 116.50,235.60 117.00,235.40 117.50,235.20 118.00,235.00 118.50,234.81 119.00,234.61 119.50,234.42 120.00,234.23 120.50,234.03 121.00,233.84 121.50,233.65 122.00,233.47 122.50,233.28 123.00,233.09 123.50,232.91 124.00,232.72 124.50,232.54 125.00,232.36 125.50,232.18 126.00,232.00 126.50,231.82 127.00,231.64 127.50,231.46 128.00,231.28 128.50,231.11 129.00,230.93 129.50,230.76 130.00,230.59 130.50,230.42 131.00,230.25 131.50,230.08 132.00,229.91 132.50,229.74 133.00,229.58 133.50,229.41 134.00,229.25 134.50,229.08 135.00,228.92 135.50,228.76 136.00,228.60 136.50,228.44 137.00,228.28 137.50,228.12 138.00,227.97 138.50,227.81 139.00,227.66 139.50,227.50 140.00,227.35 140.50,227.20 141.00,227.05 141.50,226.90 142.00,226.75 142.50,226.60 143.00,226.45 143.50,226.31 144.00,226.16 144.50,226.02 145.00,225.87 145.50,225.73 146.00,225.59 146.50,225.45 147.00,225.31 147.50,225.17 148.00,225.03 148.50,224.90 149.00,224.76 149.50,224.63 150.00,224.49 150.50,224.36 151.00,224.23 151.50,224.10 152.00,223.97 152.50,223.84 153.00,223.71 153.50,223.58 154.00,223.46 154.50,223.33 155.00,223.21 155.50,223.08 156.00,222.96 156.50,222.84 157.00,222.72 157.50,222.60 158.00,222.48 158.50,222.36 159.00,222.24 159.50,222.13 160.00,222.01 160.50,221.90 161.00,221.79 161.50,221.67 162.00,221.56 162.50,221.45 163.00,221.34 163.50,221.23 164.00,221.12 164.50,221.02 165.00,220.91 165.50,220.81 166.00,220.70 166.50,220.60 167.00,220.50 167.50,220.40 168.00,220.29 168.50,220.20 169.00,220.10 169.50,220.00 170.00,219.90 170.50,219.81 171.00,219.71 171.50,219.62 172.00,219.52 172.50,219.43 173.00,219.34 173.50,219.25 174.00,219.16 174.50,219.07 175.00,218.98 175.50,218.90 176.00,218.81 176.50,218.73 177.00,218.64 177.50,218.56 178.00,218.48 178.50,218.39 179.00,218.31 179.50,218.23 180.00,218.15 180.50,218.08 181.00,218.00 181.50,217.92 182.00,217.85 182.50,217.77 183.00,217.70 183.50,217.63 184.00,217.56 184.50,217.49 185.00,217.42 185.50,217.35 186.00,217.28 186.50,217.21 187.00,217.15 187.50,217.08 188.00,217.02 188.50,216.95 189.00,216.89 189.50,216.83 190.00,216.77 190.50,216.71 191.00,216.65 191.50,216.59 192.00,216.53 192.50,216.48 193.00,216.42" fill="none" stroke="#6a64a8" stroke-width="0.9" stroke-linejoin="round"/>
<rect x="54.5" y="178.7" width="138.7" height="97.80000000000001" fill="none" stroke="#a6a6a6" stroke-width="1"/>
<path d="M123.85,276.5v-2.5M123.85,178.7v2.5M54.5,227.6h2.5M193.2,227.6h-2.5" stroke="#a6a6a6" stroke-width="0.8"/>
<polyline points="220.50,275.86 221.00,274.59 221.50,273.86 222.00,273.22 222.50,272.64 223.00,272.08 223.50,271.56 224.00,271.05 224.50,270.55 225.00,270.07 225.50,269.61 226.00,269.15 226.50,268.70 227.00,268.25 227.50,267.82 228.00,267.39 228.50,266.97 229.00,266.55 229.50,266.14 230.00,265.74 230.50,265.34 231.00,264.94 231.50,264.55 232.00,264.16 232.50,263.77 233.00,263.39 233.50,263.02 234.00,262.64 234.50,262.27 235.00,261.91 235.50,261.54 236.00,261.18 236.50,260.82 237.00,260.47 237.50,260.12 238.00,259.77 238.50,259.42 239.00,259.08 239.50,258.74 240.00,258.40 240.50,258.06 241.00,257.73 241.50,257.40 242.00,257.07 242.50,256.74 243.00,256.41 243.50,256.09 244.00,255.77 244.50,255.45 245.00,255.14 245.50,254.82 246.00,254.51 246.50,254.20 247.00,253.89 247.50,253.58 248.00,253.28 248.50,252.97 249.00,252.67 249.50,252.37 250.00,252.08 250.50,251.78 251.00,251.49 251.50,251.20 252.00,250.90 252.50,250.62 253.00,250.33 253.50,250.04 254.00,249.76 254.50,249.48 255.00,249.20 255.50,248.92 256.00,248.64 256.50,248.36 257.00,248.09 257.50,247.82 258.00,247.55 258.50,247.28 259.00,247.01 259.50,246.74 260.00,246.48 260.50,246.21 261.00,245.95 261.50,245.69 262.00,245.43 262.50,245.17 263.00,244.92 263.50,244.66 264.00,244.41 264.50,244.16 265.00,243.90 265.50,243.66 266.00,243.41 266.50,243.16 267.00,242.91 267.50,242.67 268.00,242.43 268.50,242.19 269.00,241.95 269.50,241.71 270.00,241.47 270.50,241.23 271.00,241.00 271.50,240.76 272.00,240.53 272.50,240.30 273.00,240.07 273.50,239.84 274.00,239.61 274.50,239.39 275.00,239.16 275.50,238.94 276.00,238.72 276.50,238.49 277.00,238.27 277.50,238.06 278.00,237.84 278.50,237.62 279.00,237.41 279.50,237.19 280.00,236.98 280.50,236.77 281.00,236.56 281.50,236.35 282.00,236.14 282.50,235.93 283.00,235.72 283.50,235.52 284.00,235.31 284.50,235.11 285.00,234.91 285.50,234.71 286.00,234.51 286.50,234.31 287.00,234.12 287.50,233.92 288.00,233.72 288.50,233.53 289.00,233.34 289.50,233.15 290.00,232.95 290.50,232.77 291.00,232.58 291.50,232.39 292.00,232.20 292.50,232.02 293.00,231.83 293.50,231.65 294.00,231.47 294.50,231.29 295.00,231.11 295.50,230.93 296.00,230.75 296.50,230.57 297.00,230.40 297.50,230.22 298.00,230.05 298.50,229.88 299.00,229.70 299.50,229.53 300.00,229.36 300.50,229.20 301.00,229.03 301.50,228.86 302.00,228.70 302.50,228.53 303.00,228.37 303.50,228.20 304.00,228.04 304.50,227.88 305.00,227.72 305.50,227.56 306.00,227.41 306.50,227.25 307.00,227.09 307.50,226.94 308.00,226.78 308.50,226.63 309.00,226.48 309.50,226.33 310.00,226.18 310.50,226.03 311.00,225.88 311.50,225.74 312.00,225.59 312.50,225.44 313.00,225.30 313.50,225.16 314.00,225.01 314.50,224.87 315.00,224.73 315.50,224.59 316.00,224.45 316.50,224.32 317.00,224.18 317.50,224.04 318.00,223.91 318.50,223.78 319.00,223.64 319.50,223.51 320.00,223.38 320.50,223.25 321.00,223.12 321.50,222.99 322.00,222.86 322.50,222.74 323.00,222.61 323.50,222.49 324.00,222.36 324.50,222.24 325.00,222.12 325.50,222.00 326.00,221.88 326.50,221.76 327.00,221.64 327.50,221.52 328.00,221.41 328.50,221.29 329.00,221.17 329.50,221.06 330.00,220.95 330.50,220.84 331.00,220.72 331.50,220.61 332.00,220.50 332.50,220.40 333.00,220.29 333.50,220.18 334.00,220.08 334.50,219.97 335.00,219.87 335.50,219.76 336.00,219.66 336.50,219.56 337.00,219.46 337.50,219.36 338.00,219.26 338.50,219.16 339.00,219.06 339.50,218.97 340.00,218.87 340.50,218.78 341.00,218.68 341.50,218.59 342.00,218.50 342.50,218.40 343.00,218.31 343.50,218.22 344.00,218.14 344.50,218.05 345.00,217.96 345.50,217.87 346.00,217.79 346.50,217.70 347.00,217.62 347.50,217.54 348.00,217.45 348.50,217.37 349.00,217.29 349.50,217.21 350.00,217.13 350.50,217.06 351.00,216.98 351.50,216.90 352.00,216.83 352.50,216.75 353.00,216.68 353.50,216.61 354.00,216.53 354.50,216.46 355.00,216.39 355.50,216.32 356.00,216.25 356.50,216.18 357.00,216.12 357.50,216.05 358.00,215.98 358.50,215.92 359.00,215.86" fill="none" stroke="#a08870" stroke-width="1.7" stroke-linejoin="round"/>
<polyline points="220.50,275.86 221.00,274.59 221.50,273.86 222.00,273.22 222.50,272.64 223.00,272.08 223.50,271.56 224.00,271.05 224.50,270.55 225.00,270.07 225.50,269.61 226.00,269.15 226.50,268.70 227.00,268.25 227.50,267.82 228.00,267.39 228.50,266.97 229.00,266.55 229.50,266.14 230.00,265.74 230.50,265.34 231.00,264.94 231.50,264.55 232.00,264.16 232.50,263.77 233.00,263.39 233.50,263.02 234.00,262.64 234.50,262.27 235.00,261.91 235.50,261.54 236.00,261.18 236.50,260.82 237.00,260.47 237.50,260.12 238.00,259.77 238.50,259.42 239.00,259.08 239.50,258.74 240.00,258.40 240.50,258.06 241.00,257.73 241.50,257.40 242.00,257.07 242.50,256.74 243.00,256.41 243.50,256.09 244.00,255.77 244.50,255.45 245.00,255.14 245.50,254.82 246.00,254.51 246.50,254.20 247.00,253.89 247.50,253.58 248.00,253.28 248.50,252.97 249.00,252.67 249.50,252.37 250.00,252.08 250.50,251.78 251.00,251.49 251.50,251.20 252.00,250.90 252.50,250.62 253.00,250.33 253.50,250.04 254.00,249.76 254.50,249.48 255.00,249.20 255.50,248.92 256.00,248.64 256.50,248.36 257.00,248.09 257.50,247.82 258.00,247.55 258.50,247.28 259.00,247.01 259.50,246.74 260.00,246.48 260.50,246.21 261.00,245.95 261.50,245.69 262.00,245.43 262.50,245.17 263.00,244.92 263.50,244.66 264.00,244.41 264.50,244.16 265.00,243.90 265.50,243.66 266.00,243.41 266.50,243.16 267.00,242.91 267.50,242.67 268.00,242.43 268.50,242.19 269.00,241.95 269.50,241.71 270.00,241.47 270.50,241.23 271.00,241.00 271.50,240.76 272.00,240.53 272.50,240.30 273.00,240.07 273.50,239.84 274.00,239.61 274.50,239.39 275.00,239.16 275.50,238.94 276.00,238.72 276.50,238.49 277.00,238.27 277.50,238.06 278.00,237.84 278.50,237.62 279.00,237.41 279.50,237.19 280.00,236.98 280.50,236.77 281.00,236.56 281.50,236.35 282.00,236.14 282.50,235.93 283.00,235.72 283.50,235.52 284.00,235.31 284.50,235.11 285.00,234.91 285.50,234.71 286.00,234.51 286.50,234.31 287.00,234.12 287.50,233.92 288.00,233.72 288.50,233.53 289.00,233.34 289.50,233.15 290.00,232.95 290.50,232.77 291.00,232.58 291.50,232.39 292.00,232.20 292.50,232.02 293.00,231.83 293.50,231.65 294.00,231.47 294.50,231.29 295.00,231.11 295.50,230.93 296.00,230.75 296.50,230.57 297.00,230.40 297.50,230.22 298.00,230.05 298.50,229.88 299.00,229.70 299.50,229.53 300.00,229.36 300.50,229.20 301.00,229.03 301.50,228.86 302.00,228.70 302.50,228.53 303.00,228.37 303.50,228.20 304.00,228.04 304.50,227.88 305.00,227.72 305.50,227.56 306.00,227.41 306.50,227.25 307.00,227.09 307.50,226.94 308.00,226.78 308.50,226.63 309.00,226.48 309.50,226.33 310.00,226.18 310.50,226.03 311.00,225.88 311.50,225.74 312.00,225.59 312.50,225.44 313.00,225.30 313.50,225.16 314.00,225.01 314.50,224.87 315.00,224.73 315.50,224.59 316.00,224.45 316.50,224.32 317.00,224.18 317.50,224.04 318.00,223.91 318.50,223.78 319.00,223.64 319.50,223.51 320.00,223.38 320.50,223.25 321.00,223.12 321.50,222.99 322.00,222.86 322.50,222.74 323.00,222.61 323.50,222.49 324.00,222.36 324.50,222.24 325.00,222.12 325.50,222.00 326.00,221.88 326.50,221.76 327.00,221.64 327.50,221.52 328.00,221.41 328.50,221.29 329.00,221.17 329.50,221.06 330.00,220.95 330.50,220.84 331.00,220.72 331.50,220.61 332.00,220.50 332.50,220.40 333.00,220.29 333.50,220.18 334.00,220.08 334.50,219.97 335.00,219.87 335.50,219.76 336.00,219.66 336.50,219.56 337.00,219.46 337.50,219.36 338.00,219.26 338.50,219.16 339.00,219.06 339.50,218.97 340.00,218.87 340.50,218.78 341.00,218.68 341.50,218.59 342.00,218.50 342.50,218.40 343.00,218.31 343.50,218.22 344.00,218.14 344.50,218.05 345.00,217.96 345.50,217.87 346.00,217.79 346.50,217.70 347.00,217.62 347.50,217.54 348.00,217.45 348.50,217.37 349.00,217.29 349.50,217.21 350.00,217.13 350.50,217.06 351.00,216.98 351.50,216.90 352.00,216.83 352.50,216.75 353.00,216.68 353.50,216.61 354.00,216.53 354.50,216.46 355.00,216.39 355.50,216.32 356.00,216.25 356.50,216.18 357.00,216.12 357.50,216.05 358.00,215.98 358.50,215.92 359.00,215.86" fill="none" stroke="#786890" stroke-width="0.9" stroke-linejoin="round"/>
<rect x="220.5" y="178.7" width="138.7" height="97.80000000000001" fill="none" stroke="#a6a6a6" stroke-width="1"/>
<path d="M289.85,276.5v-2.5M289.85,178.7v2.5M220.5,227.6h2.5M359.2,227.6h-2.5" stroke="#a6a6a6" stroke-width="0.8"/>
<polyline points="396.50,275.91 397.00,273.71 397.50,272.66 398.00,272.15 398.50,271.71 399.00,271.32 399.50,270.94 400.00,270.58 400.50,270.23 401.00,269.90 401.50,269.57 402.00,269.25 402.50,268.94 403.00,268.64 403.50,268.35 404.00,268.06 404.50,267.78 405.00,267.49 405.50,267.22 406.00,266.94 406.50,266.67 407.00,266.40 407.50,266.13 408.00,265.86 408.50,265.59 409.00,265.32 409.50,265.04 410.00,264.76 410.50,264.48 411.00,264.19 411.50,263.90 412.00,263.60 412.50,263.29 413.00,262.98 413.50,262.66 414.00,262.33 414.50,262.00 415.00,261.66 415.50,261.32 416.00,260.98 416.50,260.63 417.00,260.27 417.50,259.92 418.00,259.57 418.50,259.21 419.00,258.85 419.50,258.50 420.00,258.14 420.50,257.78 421.00,257.43 421.50,257.07 422.00,256.72 422.50,256.36 423.00,256.01 423.50,255.66 424.00,255.31 424.50,254.97 425.00,254.62 425.50,254.28 426.00,253.94 426.50,253.60 427.00,253.26 427.50,252.93 428.00,252.59 428.50,252.26 429.00,251.93 429.50,251.59 430.00,251.26 430.50,250.93 431.00,250.61 431.50,250.28 432.00,249.95 432.50,249.63 433.00,249.30 433.50,248.98 434.00,248.66 434.50,248.34 435.00,248.03 435.50,247.71 436.00,247.40 436.50,247.10 437.00,246.79 437.50,246.49 438.00,246.19 438.50,245.90 439.00,245.61 439.50,245.33 440.00,245.05 440.50,244.77 441.00,244.50 441.50,244.24 442.00,243.98 442.50,243.73 443.00,243.48 443.50,243.24 444.00,243.00 444.50,242.77 445.00,242.54 445.50,242.31 446.00,242.09 446.50,241.86 447.00,241.64 447.50,241.42 448.00,241.20 448.50,240.98 449.00,240.76 449.50,240.53 450.00,240.31 450.50,240.08 451.00,239.85 451.50,239.62 452.00,239.39 452.50,239.16 453.00,238.93 453.50,238.70 454.00,238.47 454.50,238.24 455.00,238.02 455.50,237.79 456.00,237.58 456.50,237.36 457.00,237.15 457.50,236.95 458.00,236.74 458.50,236.54 459.00,236.34 459.50,236.14 460.00,235.95 460.50,235.75 461.00,235.55 461.50,235.35 462.00,235.15 462.50,234.95 463.00,234.75 463.50,234.54 464.00,234.34 464.50,234.13 465.00,233.93 465.50,233.72 466.00,233.52 466.50,233.32 467.00,233.12 467.50,232.92 468.00,232.73 468.50,232.53 469.00,232.34 469.50,232.15 470.00,231.97 470.50,231.78 471.00,231.60 471.50,231.42 472.00,231.24 472.50,231.07 473.00,230.89 473.50,230.72 474.00,230.55 474.50,230.39 475.00,230.22 475.50,230.06 476.00,229.90 476.50,229.74 477.00,229.58 477.50,229.42 478.00,229.26 478.50,229.10 479.00,228.95 479.50,228.79 480.00,228.64 480.50,228.48 481.00,228.33 481.50,228.17 482.00,228.02 482.50,227.87 483.00,227.72 483.50,227.56 484.00,227.41 484.50,227.26 485.00,227.10 485.50,226.95 486.00,226.80 486.50,226.64 487.00,226.49 487.50,226.33 488.00,226.18 488.50,226.03 489.00,225.88 489.50,225.73 490.00,225.58 490.50,225.44 491.00,225.30 491.50,225.16 492.00,225.03 492.50,224.90 493.00,224.77 493.50,224.65 494.00,224.53 494.50,224.42 495.00,224.30 495.50,224.19 496.00,224.08 496.50,223.97 497.00,223.86 497.50,223.75 498.00,223.63 498.50,223.52 499.00,223.41 499.50,223.30 500.00,223.18 500.50,223.07 501.00,222.95 501.50,222.84 502.00,222.73 502.50,222.61 503.00,222.50 503.50,222.39 504.00,222.27 504.50,222.16 505.00,222.05 505.50,221.95 506.00,221.84 506.50,221.73 507.00,221.62 507.50,221.52 508.00,221.41 508.50,221.30 509.00,221.20 509.50,221.09 510.00,220.98 510.50,220.87 511.00,220.76 511.50,220.65 512.00,220.53 512.50,220.42 513.00,220.30 513.50,220.19 514.00,220.07 514.50,219.95 515.00,219.83 515.50,219.72 516.00,219.60 516.50,219.48 517.00,219.36 517.50,219.25 518.00,219.13 518.50,219.02 519.00,218.90 519.50,218.79 520.00,218.67 520.50,218.56 521.00,218.45 521.50,218.34 522.00,218.22 522.50,218.11 523.00,218.00 523.50,217.89 524.00,217.77 524.50,217.66 525.00,217.55 525.50,217.43 526.00,217.32 526.50,217.20 527.00,217.09 527.50,216.98 528.00,216.86 528.50,216.75 529.00,216.63 529.50,216.52 530.00,216.41 530.50,216.30 531.00,216.19 531.50,216.08 532.00,215.97 532.50,215.86 533.00,215.75 533.50,215.64 534.00,215.54 534.50,215.43 535.00,215.32" fill="none" stroke="#a89068" stroke-width="1.6" stroke-linejoin="round" opacity="0.45"/>
<polyline points="409.00,265.72 409.50,265.44 410.00,265.16 410.50,264.88 411.00,264.59 411.50,264.30 412.00,264.00 412.50,263.69 413.00,263.38 413.50,263.06 414.00,262.73 414.50,262.40 415.00,262.06 415.50,261.72 416.00,261.38 416.50,261.03 417.00,260.67 417.50,260.32 418.00,259.97 418.50,259.61 419.00,259.25 419.50,258.90 420.00,258.54" fill="none" stroke="#a88c5c" stroke-width="2.4800000000000004" stroke-linecap="round" opacity="0.55"/>
<polyline points="439.00,246.01 439.50,245.73 440.00,245.45 440.50,245.17 441.00,244.90 441.50,244.64 442.00,244.38 442.50,244.13 443.00,243.88 443.50,243.64 444.00,243.40 444.50,243.17 445.00,242.94 445.50,242.71 446.00,242.49 446.50,242.26 447.00,242.04 447.50,241.82 448.00,241.60 448.50,241.38 449.00,241.16 449.50,240.93 450.00,240.71 450.50,240.48 451.00,240.25 451.50,240.02 452.00,239.79 452.50,239.56 453.00,239.33 453.50,239.10 454.00,238.87 454.50,238.64 455.00,238.42" fill="none" stroke="#a88c5c" stroke-width="2.0" stroke-linecap="round" opacity="0.55"/>
<polyline points="461.00,235.95 461.50,235.75 462.00,235.55 462.50,235.35 463.00,235.15 463.50,234.94 464.00,234.74 464.50,234.53 465.00,234.33 465.50,234.12 466.00,233.92" fill="none" stroke="#a88c5c" stroke-width="1.84" stroke-linecap="round" opacity="0.55"/>
<polyline points="469.00,232.74 469.50,232.55 470.00,232.37 470.50,232.18 471.00,232.00 471.50,231.82 472.00,231.64 472.50,231.47 473.00,231.29 473.50,231.12 474.00,230.95 474.50,230.79 475.00,230.62 475.50,230.46 476.00,230.30 476.50,230.14 477.00,229.98 477.50,229.82 478.00,229.66 478.50,229.50 479.00,229.35 479.50,229.19 480.00,229.04" fill="none" stroke="#a88c5c" stroke-width="2.0" stroke-linecap="round" opacity="0.55"/>
<polyline points="485.00,227.50 485.50,227.35 486.00,227.20 486.50,227.04 487.00,226.89 487.50,226.73 488.00,226.58 488.50,226.43 489.00,226.28 489.50,226.13 490.00,225.98 490.50,225.84 491.00,225.70 491.50,225.56 492.00,225.43 492.50,225.30 493.00,225.17 493.50,225.05 494.00,224.93 494.50,224.82 495.00,224.70 495.50,224.59 496.00,224.48 496.50,224.37 497.00,224.26 497.50,224.15 498.00,224.03 498.50,223.92 499.00,223.81" fill="none" stroke="#a88c5c" stroke-width="2.0" stroke-linecap="round" opacity="0.55"/>
<polyline points="526.00,217.72 526.50,217.60 527.00,217.49 527.50,217.38 528.00,217.26 528.50,217.15 529.00,217.03 529.50,216.92 530.00,216.81 530.50,216.70 531.00,216.59 531.50,216.48 532.00,216.37 532.50,216.26 533.00,216.15 533.50,216.04 534.00,215.94 534.50,215.83 535.00,215.72" fill="none" stroke="#a88c5c" stroke-width="1.84" stroke-linecap="round" opacity="0.55"/>
<polyline points="396.50,275.91 397.00,273.71 397.50,272.66 398.00,272.15 398.50,271.71 399.00,271.32 399.50,270.94 400.00,270.58 400.50,270.23 401.00,269.90 401.50,269.57 402.00,269.25 402.50,268.94 403.00,268.64 403.50,268.35 404.00,268.06 404.50,267.78 405.00,267.49 405.50,267.22 406.00,266.94 406.50,266.67 407.00,266.40 407.50,266.13 408.00,265.86 408.50,265.59 409.00,265.32 409.50,265.04 410.00,264.76 410.50,264.48 411.00,264.19 411.50,263.90 412.00,263.60 412.50,263.29 413.00,262.98 413.50,262.66 414.00,262.33 414.50,262.00 415.00,261.66 415.50,261.32 416.00,260.98 416.50,260.63 417.00,260.27 417.50,259.92 418.00,259.57 418.50,259.21 419.00,258.85 419.50,258.50 420.00,258.14 420.50,257.78 421.00,257.43 421.50,257.07 422.00,256.72 422.50,256.36 423.00,256.01 423.50,255.66 424.00,255.31 424.50,254.97 425.00,254.62 425.50,254.28 426.00,253.94 426.50,253.60 427.00,253.26 427.50,252.93 428.00,252.59 428.50,252.26 429.00,251.93 429.50,251.59 430.00,251.26 430.50,250.93 431.00,250.61 431.50,250.28 432.00,249.95 432.50,249.63 433.00,249.30 433.50,248.98 434.00,248.66 434.50,248.34 435.00,248.03 435.50,247.71 436.00,247.40 436.50,247.10 437.00,246.79 437.50,246.49 438.00,246.19 438.50,245.90 439.00,245.61 439.50,245.33 440.00,245.05 440.50,244.77 441.00,244.50 441.50,244.24 442.00,243.98 442.50,243.73 443.00,243.48 443.50,243.24 444.00,243.00 444.50,242.77 445.00,242.54 445.50,242.31 446.00,242.09 446.50,241.86 447.00,241.64 447.50,241.42 448.00,241.20 448.50,240.98 449.00,240.76 449.50,240.53 450.00,240.31 450.50,240.08 451.00,239.85 451.50,239.62 452.00,239.39 452.50,239.16 453.00,238.93 453.50,238.70 454.00,238.47 454.50,238.24 455.00,238.02 455.50,237.79 456.00,237.58 456.50,237.36 457.00,237.15 457.50,236.95 458.00,236.74 458.50,236.54 459.00,236.34 459.50,236.14 460.00,235.95 460.50,235.75 461.00,235.55 461.50,235.35 462.00,235.15 462.50,234.95 463.00,234.75 463.50,234.54 464.00,234.34 464.50,234.13 465.00,233.93 465.50,233.72 466.00,233.52 466.50,233.32 467.00,233.12 467.50,232.92 468.00,232.73 468.50,232.53 469.00,232.34 469.50,232.15 470.00,231.97 470.50,231.78 471.00,231.60 471.50,231.42 472.00,231.24 472.50,231.07 473.00,230.89 473.50,230.72 474.00,230.55 474.50,230.39 475.00,230.22 475.50,230.06 476.00,229.90 476.50,229.74 477.00,229.58 477.50,229.42 478.00,229.26 478.50,229.10 479.00,228.95 479.50,228.79 480.00,228.64 480.50,228.48 481.00,228.33 481.50,228.17 482.00,228.02 482.50,227.87 483.00,227.72 483.50,227.56 484.00,227.41 484.50,227.26 485.00,227.10 485.50,226.95 486.00,226.80 486.50,226.64 487.00,226.49 487.50,226.33 488.00,226.18 488.50,226.03 489.00,225.88 489.50,225.73 490.00,225.58 490.50,225.44 491.00,225.30 491.50,225.16 492.00,225.03 492.50,224.90 493.00,224.77 493.50,224.65 494.00,224.53 494.50,224.42 495.00,224.30 495.50,224.19 496.00,224.08 496.50,223.97 497.00,223.86 497.50,223.75 498.00,223.63 498.50,223.52 499.00,223.41 499.50,223.30 500.00,223.18 500.50,223.07 501.00,222.95 501.50,222.84 502.00,222.73 502.50,222.61 503.00,222.50 503.50,222.39 504.00,222.27 504.50,222.16 505.00,222.05 505.50,221.95 506.00,221.84 506.50,221.73 507.00,221.62 507.50,221.52 508.00,221.41 508.50,221.30 509.00,221.20 509.50,221.09 510.00,220.98 510.50,220.87 511.00,220.76 511.50,220.65 512.00,220.53 512.50,220.42 513.00,220.30 513.50,220.19 514.00,220.07 514.50,219.95 515.00,219.83 515.50,219.72 516.00,219.60 516.50,219.48 517.00,219.36 517.50,219.25 518.00,219.13 518.50,219.02 519.00,218.90 519.50,218.79 520.00,218.67 520.50,218.56 521.00,218.45 521.50,218.34 522.00,218.22 522.50,218.11 523.00,218.00 523.50,217.89 524.00,217.77 524.50,217.66 525.00,217.55 525.50,217.43 526.00,217.32 526.50,217.20 527.00,217.09 527.50,216.98 528.00,216.86 528.50,216.75 529.00,216.63 529.50,216.52 530.00,216.41 530.50,216.30 531.00,216.19 531.50,216.08 532.00,215.97 532.50,215.86 533.00,215.75 533.50,215.64 534.00,215.54 534.50,215.43 535.00,215.32" fill="none" stroke="#6a64a8" stroke-width="0.9" stroke-linejoin="round"/>
<rect x="396.5" y="178.7" width="138.29999999999995" height="97.80000000000001" fill="none" stroke="#a6a6a6" stroke-width="1"/>
<path d="M465.65,276.5v-2.5M465.65,178.7v2.5M396.5,227.6h2.5M534.8,227.6h-2.5" stroke="#a6a6a6" stroke-width="0.8"/>
</g>
<g style="filter:blur(0.22px)">
<text x="47.0" y="16.1" text-anchor="end" font-family="Liberation Serif, serif" font-size="11.5">1</text>
<text x="47.0" y="64.65" text-anchor="end" font-family="Liberation Serif, serif" font-size="11.5">0.5</text>
<text x="54.5" y="126.0" text-anchor="middle" font-family="Liberation Serif, serif" font-size="11.5">0</text>
<text x="123.85" y="126.0" text-anchor="middle" font-family="Liberation Serif, serif" font-size="11.5">500</text>
<text x="193.2" y="126.0" text-anchor="middle" font-family="Liberation Serif, serif" font-size="11.5">1000</text>
<text x="123.85" y="143.5" text-anchor="middle" font-family="Liberation Serif, serif" font-size="11.8">Simulation steps</text>
<text x="213.0" y="16.1" text-anchor="end" font-family="Liberation Serif, serif" font-size="11.5">1</text>
<text x="213.0" y="64.65" text-anchor="end" font-family="Liberation Serif, serif" font-size="11.5">0.5</text>
<text x="220.5" y="126.0" text-anchor="middle" font-family="Liberation Serif, serif" font-size="11.5">0</text>
<text x="289.85" y="126.0" text-anchor="middle" font-family="Liberation Serif, serif" font-size="11.5">500</text>
<text x="359.2" y="126.0" text-anchor="middle" font-family="Liberation Serif, serif" font-size="11.5">1000</text>
<text x="289.85" y="143.5" text-anchor="middle" font-family="Liberation Serif, serif" font-size="11.8">Simulation steps</text>
<text x="389.0" y="16.1" text-anchor="end" font-family="Liberation Serif, serif" font-size="11.5">1</text>
<text x="389.0" y="64.65" text-anchor="end" font-family="Liberation Serif, serif" font-size="11.5">0.5</text>
<text x="396.5" y="126.0" text-anchor="middle" font-family="Liberation Serif, serif" font-size="11.5">0</text>
<text x="465.65" y="126.0" text-anchor="middle" font-family="Liberation Serif, serif" font-size="11.5">500</text>
<text x="534.8" y="126.0" text-anchor="middle" font-family="Liberation Serif, serif" font-size="11.5">1000</text>
<text x="465.65" y="143.5" text-anchor="middle" font-family="Liberation Serif, serif" font-size="11.8">Simulation steps</text>
<text transform="translate(26.5,60.75) rotate(-90)" text-anchor="middle" font-family="Liberation Serif, serif" font-size="11.8">Error in belief map</text>
<text x="47.0" y="183.29999999999998" text-anchor="end" font-family="Liberation Serif, serif" font-size="11.5">1</text>
<text x="47.0" y="231.5" text-anchor="end" font-family="Liberation Serif, serif" font-size="11.5">0.5</text>
<text x="54.5" y="292.0" text-anchor="middle" font-family="Liberation Serif, serif" font-size="11.5">0</text>
<text x="123.85" y="292.0" text-anchor="middle" font-family="Liberation Serif, serif" font-size="11.5">500</text>
<text x="193.2" y="292.0" text-anchor="middle" font-family="Liberation Serif, serif" font-size="11.5">1000</text>
<text x="123.85" y="310.0" text-anchor="middle" font-family="Liberation Serif, serif" font-size="11.8">Simulation steps</text>
<text x="213.0" y="183.29999999999998" text-anchor="end" font-family="Liberation Serif, serif" font-size="11.5">1</text>
<text x="213.0" y="231.5" text-anchor="end" font-family="Liberation Serif, serif" font-size="11.5">0.5</text>
<text x="220.5" y="292.0" text-anchor="middle" font-family="Liberation Serif, serif" font-size="11.5">0</text>
<text x="289.85" y="292.0" text-anchor="middle" font-family="Liberation Serif, serif" font-size="11.5">500</text>
<text x="359.2" y="292.0" text-anchor="middle" font-family="Liberation Serif, serif" font-size="11.5">1000</text>
<text x="289.85" y="310.0" text-anchor="middle" font-family="Liberation Serif, serif" font-size="11.8">Simulation steps</text>
<text x="389.0" y="183.29999999999998" text-anchor="end" font-family="Liberation Serif, serif" font-size="11.5">1</text>
<text x="389.0" y="231.5" text-anchor="end" font-family="Liberation Serif, serif" font-size="11.5">0.5</text>
<text x="396.5" y="292.0" text-anchor="middle" font-family="Liberation Serif, serif" font-size="11.5">0</text>
<text x="465.65" y="292.0" text-anchor="middle" font-family="Liberation Serif, serif" font-size="11.5">500</text>
<text x="534.8" y="292.0" text-anchor="middle" font-family="Liberation Serif, serif" font-size="11.5">1000</text>
<text x="465.65" y="310.0" text-anchor="middle" font-family="Liberation Serif, serif" font-size="11.8">Simulation steps</text>
<text transform="translate(26.5,227.6) rotate(-90)" text-anchor="middle" font-family="Liberation Serif, serif" font-size="11.8">Confidence</text>
<text x="4" y="168.8" font-family="Liberation Serif, serif" font-size="12.5">(<tspan font-weight="bold">a</tspan>)</text>
<text x="196.6" y="168.8" font-family="Liberation Serif, serif" font-size="12.5">(<tspan font-weight="bold">b</tspan>)</text>
<text x="373" y="168.8" font-family="Liberation Serif, serif" font-size="12.5">(<tspan font-weight="bold">c</tspan>)</text>
<text x="4" y="335.8" font-family="Liberation Serif, serif" font-size="12.5">(<tspan font-weight="bold">d</tspan>)</text>
<text x="196.6" y="335.8" font-family="Liberation Serif, serif" font-size="12.5">(<tspan font-weight="bold">e</tspan>)</text>
<text x="373" y="335.8" font-family="Liberation Serif, serif" font-size="12.5">(<tspan font-weight="bold">f</tspan>)</text>
</g>
</svg>
</body></html>
